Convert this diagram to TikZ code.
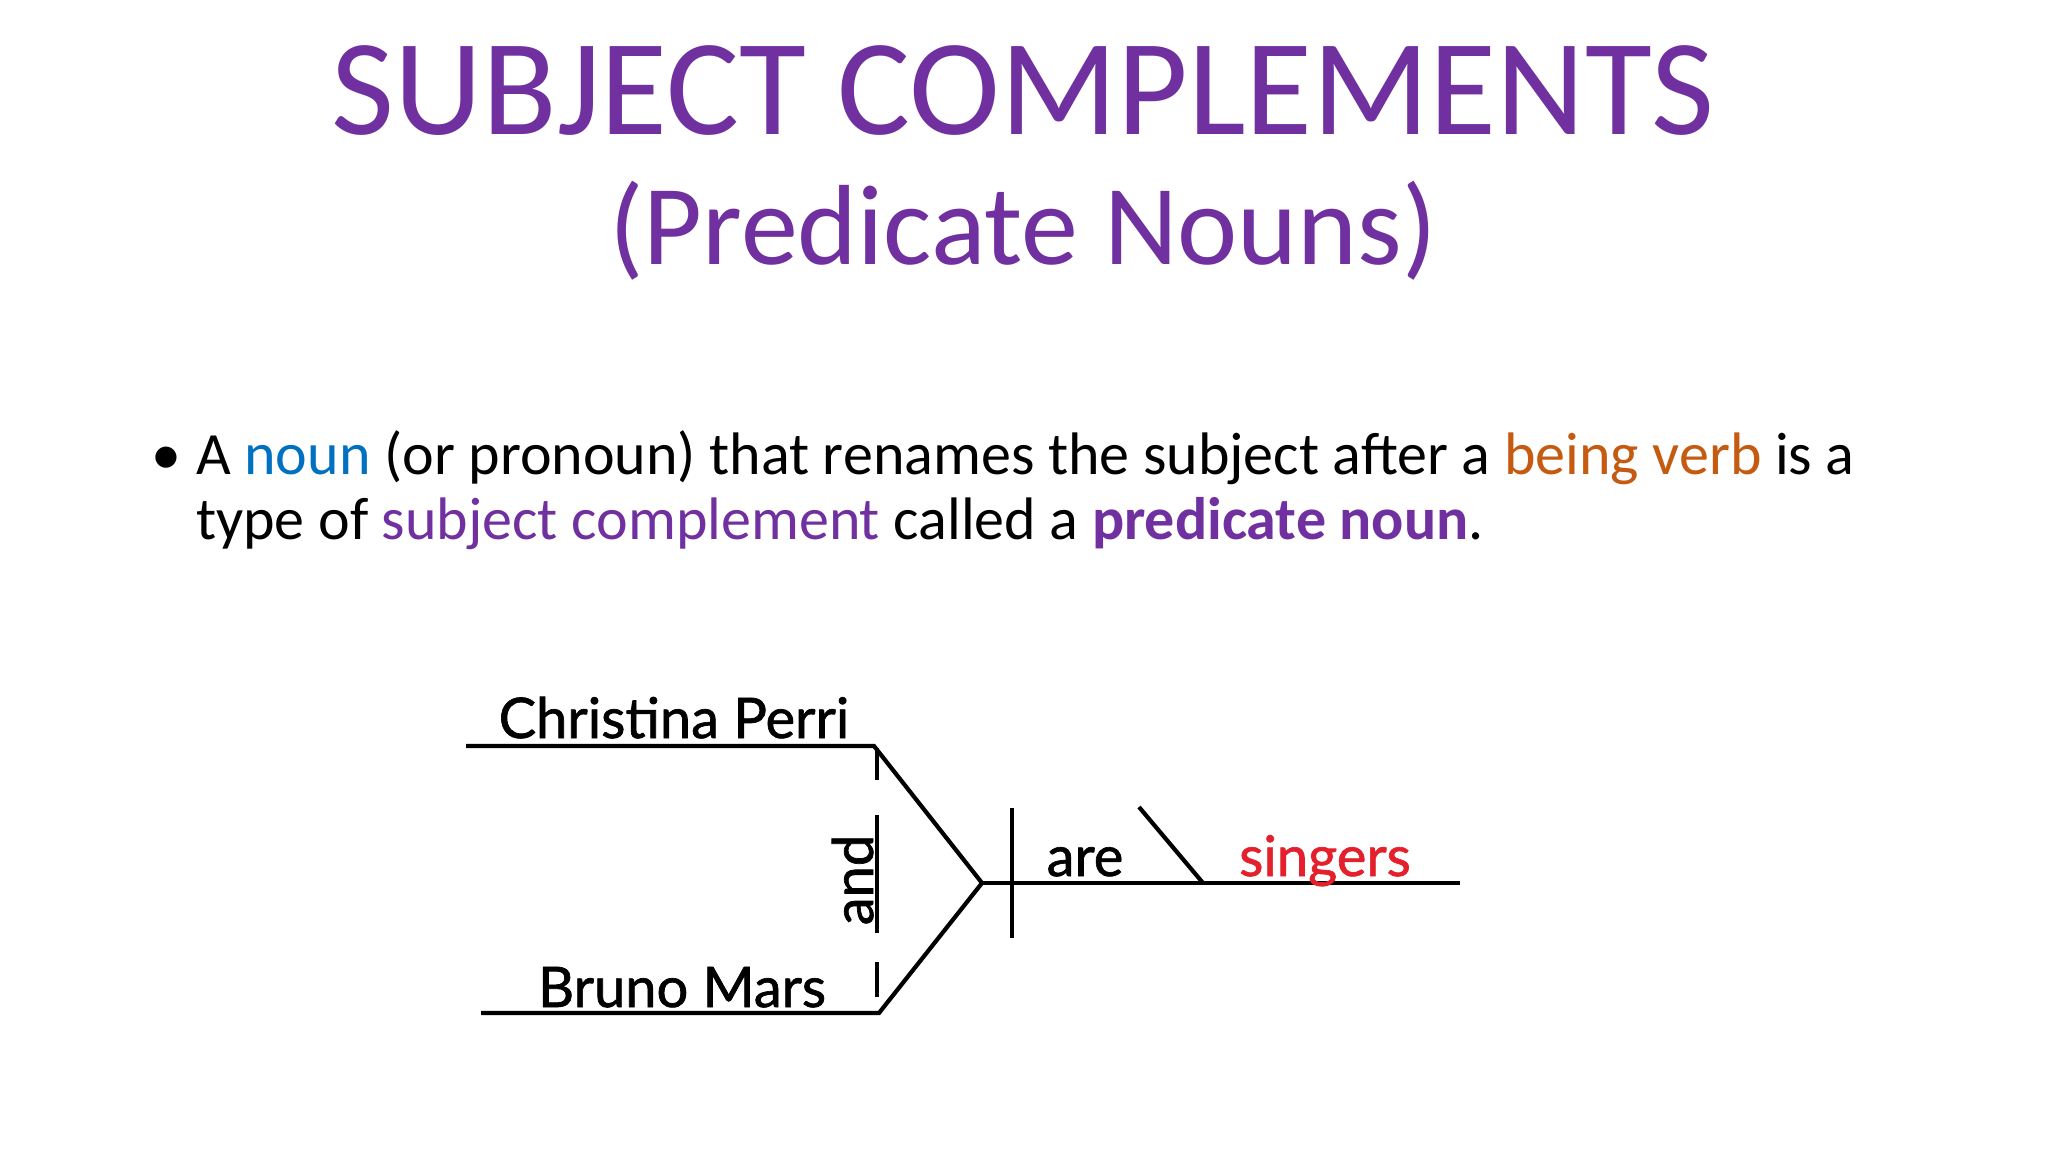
\documentclass[tikz,border=0pt]{standalone}
\usepackage{fontspec}
\setmainfont{Carlito}
\newfontfamily\diagfont[FakeBold=1.2]{Lato}
\definecolor{ttlpurple}{HTML}{7030A0}
\definecolor{nounblue}{HTML}{0070C0}
\definecolor{verborange}{HTML}{C55A11}
\definecolor{singred}{HTML}{E3202B}
\tikzset{
  ttl/.style={text=ttlpurple, inner sep=0pt, anchor=base},
  body/.style={inner sep=0pt, anchor=base west, font=\fontsize{60}{66}\selectfont},
  dword/.style={inner sep=0pt, anchor=base, font=\diagfont\fontsize{56}{60}\selectfont},
  dline/.style={line width=4.2pt, black},
}
\begin{document}
\begin{tikzpicture}[x=1pt,y=-1pt]
\useasboundingbox[fill=white] (0,0) rectangle (2048,1152);
% titles
\node[ttl, font=\fontsize{137}{150}\selectfont] (title) at (1023,134) {SUBJECT COMPLEMENTS};
\node[ttl, font=\fontsize{114}{124}\selectfont] (subtitle) at (1023,264) {(Predicate Nouns)};
% bullet text
\node[inner sep=0pt, font=\fontsize{60}{66}\selectfont, anchor=base] (bullet) at (166,474) {\textbullet};
\node[body] (line1) at (196,474) {A \textcolor{nounblue}{noun} (or pronoun) that renames the subject after a \textcolor{verborange}{being verb} is a};
\node[body] (line2) at (196,539) {type of \textcolor{ttlpurple}{subject complement} called a \textcolor{ttlpurple}{\textbf{predicate noun}}.};
% diagram coordinates
\coordinate (tl) at (466,746);
\coordinate (tr) at (874,746);
\coordinate (v) at (982,883);
\coordinate (bl) at (481,1013);
\coordinate (br) at (879,1013);
\coordinate (mend) at (1460,883);
\coordinate (d1) at (1012,808);
\coordinate (d2) at (1012,938);
\coordinate (s1) at (1139,807);
\coordinate (s2) at (1203,883);
\coordinate (c1) at (877,748);
\coordinate (c2) at (877,780);
\coordinate (c3) at (877,815);
\coordinate (c4) at (877,933);
\coordinate (c5) at (877,962);
\coordinate (c6) at (877,997);
% diagram lines
\draw[dline] (tl) -- (tr) -- (v) -- (br) -- (bl);
\draw[dline] (v) -- (mend);
\draw[dline] (d1) -- (d2);
\draw[dline] (s1) -- (s2);
\draw[line width=3.4pt] (c1) -- (c2);
\draw[line width=3.4pt] (c3) -- (c4);
\draw[line width=3.4pt] (c5) -- (c6);
% diagram words
\node[dword] (cp) at (674,738) {Christina Perri};
\node[dword] (bm) at (682,1007) {Bruno Mars};
\node[dword, rotate=90] (and) at (873,880) {and};
\node[dword] (are) at (1085,876) {are};
\node[dword, text=singred] (sing) at (1325,876) {singers};
\end{tikzpicture}
\end{document}
